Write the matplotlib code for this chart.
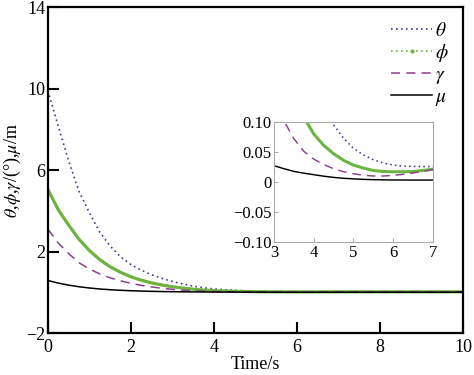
import matplotlib
matplotlib.use("Agg")
import matplotlib.pyplot as plt
from matplotlib.lines import Line2D

plt.rcParams['font.family'] = ['Liberation Serif', 'DejaVu Serif']
plt.rcParams['mathtext.fontset'] = 'stix'

# time samples (s)
t = [0, 0.25, 0.5, 0.75, 1.0, 1.25, 1.5, 1.75, 2.0, 2.25, 2.5, 2.75, 3.0,
     3.25, 3.5, 3.75, 4.0, 4.25, 4.5, 4.75, 5.0, 5.25, 5.5, 5.75, 6.0,
     6.25, 6.5, 6.75, 7.0, 7.5, 8.0, 8.5, 9.0, 9.5, 10.0]

theta = [9.9, 8.15, 6.45, 4.95, 3.9, 2.95, 2.27, 1.74, 1.36, 1.08, 0.86, 0.68, 0.53,
         0.41, 0.30, 0.22, 0.165, 0.125, 0.095, 0.073, 0.056, 0.045, 0.037, 0.0315, 0.028,
         0.0262, 0.0257, 0.0255, 0.0255, 0.025, 0.025, 0.025, 0.025, 0.025, 0.025]

phi = [5.05, 4.05, 3.3, 2.6, 2.05, 1.6, 1.25, 0.98, 0.76, 0.59, 0.46, 0.355, 0.27,
       0.205, 0.15, 0.108, 0.08, 0.061, 0.047, 0.036, 0.028, 0.023, 0.019, 0.0172, 0.0168,
       0.0168, 0.0172, 0.019, 0.021, 0.022, 0.022, 0.022, 0.022, 0.022, 0.022]

gamma = [3.1, 2.42, 1.9, 1.45, 1.14, 0.9, 0.71, 0.56, 0.44, 0.34, 0.26, 0.195, 0.143,
         0.102, 0.072, 0.051, 0.038, 0.029, 0.022, 0.017, 0.0135, 0.011, 0.0098, 0.0098, 0.0108,
         0.0125, 0.0148, 0.0175, 0.0205, 0.021, 0.021, 0.021, 0.021, 0.021, 0.021]

mu = [0.58, 0.45, 0.35, 0.27, 0.21, 0.16, 0.125, 0.097, 0.075, 0.058, 0.045, 0.035, 0.027,
      0.022, 0.0175, 0.0145, 0.012, 0.0095, 0.0075, 0.006, 0.005, 0.0042, 0.0037, 0.0034, 0.0032,
      0.0031, 0.003, 0.003, 0.003, 0.003, 0.003, 0.003, 0.003, 0.003, 0.003]

c_theta = '#3b3b8f'
c_phi = '#6cb33f'
c_gamma = '#8e3f8e'
c_mu = 'black'


def draw(ax, lw_scale=1.0):
    ax.plot(t, theta, ls=(0, (1, 2)), color=c_theta, lw=1.2 * lw_scale)
    ax.plot(t, phi, ls='-', color=c_phi, lw=2.3 * lw_scale)
    ax.plot(t, gamma, ls=(0, (6, 4)), color=c_gamma, lw=1.1 * lw_scale)
    ax.plot(t, mu, ls='-', color=c_mu, lw=1.1 * lw_scale)


fig = plt.figure(figsize=(4.74, 3.75), dpi=100)
ax = fig.add_axes([0.101, 0.112, 0.876, 0.869])
draw(ax)
ax.set_xlim(0, 10)
ax.set_ylim(-2, 14)
ax.set_xticks([0, 2, 4, 6, 8, 10])
ax.set_yticks([-2, 2, 6, 10, 14])
ax.set_yticklabels(['\u22122', '2', '6', '10', '14'])
ax.tick_params(direction='in', length=8, width=1.5, labelsize=13)
ax.tick_params(axis='x', pad=4)
ax.tick_params(axis='y', pad=2)
for s in ax.spines.values():
    s.set_linewidth(1.6)
ax.set_xlabel('Time/s', fontsize=13, labelpad=0)
ax.set_ylabel(r'$\theta$,$\phi$,$\gamma$/(°),$\mu$/m', fontsize=13, labelpad=2)

handles = [
    Line2D([], [], ls=(0, (1, 2)), color=c_theta, lw=1.2),
    Line2D([], [], ls=(0, (1, 2)), color=c_phi, lw=1.2, marker='o', ms=2),
    Line2D([], [], ls=(0, (6, 4)), color=c_gamma, lw=1.1),
    Line2D([], [], ls='-', color=c_mu, lw=1.1),
]
labels = [r'$\theta$', r'$\phi$', r'$\gamma$', r'$\mu$']
ax.legend(handles, labels, loc='upper right', frameon=False, fontsize=14,
          numpoints=1, handlelength=2.1, handletextpad=0.15, labelspacing=0.12,
          borderaxespad=0.35)

ins = fig.add_axes([0.578, 0.355, 0.335, 0.32])
draw(ins, 0.95)
ins.set_xlim(3, 7)
ins.set_ylim(-0.1, 0.1)
ins.set_xticks([3, 4, 5, 6, 7])
ins.set_yticks([-0.1, -0.05, 0, 0.05, 0.1])
ins.set_yticklabels(['\u22120.10', '\u22120.05', '0', '0.05', '0.10'])
ins.tick_params(direction='in', length=3, width=0.6, colors='#999999',
                labelcolor='black', labelsize=12, pad=2)
for s in ins.spines.values():
    s.set_linewidth(0.8)
    s.set_color('#aaaaaa')

fig.savefig('out.png', dpi=100)
